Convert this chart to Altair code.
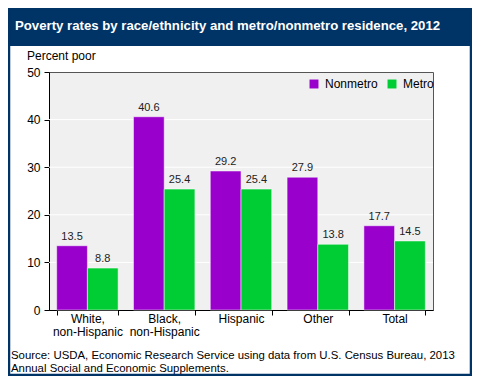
import altair as alt
import pandas as pd

categories = ["White,|non-Hispanic", "Black,|non-Hispanic", "Hispanic", "Other", "Total"]
nonmetro = [13.5, 40.6, 29.2, 27.9, 17.7]
metro = [8.8, 25.4, 25.4, 13.8, 14.5]
series = ["Nonmetro", "Metro"]
colors = ["#9900CC", "#00CC33"]
y_ticks = [0, 10, 20, 30, 40, 50]
grid_vals = [10, 20, 30, 40]

title_text = "Poverty rates by race/ethnicity and metro/nonmetro residence, 2012"
source_line1 = "Source: USDA, Economic Research Service using data from U.S. Census Bureau, 2013"
source_line2 = "Annual Social and Economic Supplements."

rows = []
for c, n, m in zip(categories, nonmetro, metro):
    rows.append({"cat": c, "series": "Nonmetro", "value": n})
    rows.append({"cat": c, "series": "Metro", "value": m})
df = pd.DataFrame(rows)

W, H = 384, 238
L, T = 41, 64
TOTW, TOTH = 464, 368
R = TOTW - L - W
B = TOTH - T - H
NAVY = "#003366"
FONT = "Liberation Sans"

x_enc = alt.X("cat:N", sort=categories, title=None,
              scale=alt.Scale(paddingInner=0.2, paddingOuter=0.1),
              axis=alt.Axis(labelExpr="split(datum.label, '|')", tickBand="extent",
                            labelAngle=0, labelFontSize=12, labelColor="#000",
                            labelFont=FONT, domainColor="#000",
                            tickColor="#000", tickSize=5, labelPadding=-2, labelLineHeight=13))
y_scale = alt.Scale(domain=[0, 50], nice=False)
y_axis = alt.Axis(values=y_ticks, grid=False, labelFontSize=12, labelColor="#000",
                  labelFont=FONT, domainColor="#000", tickColor="#000",
                  tickSize=5, labelPadding=4)

base = alt.Chart(df)

grid = alt.Chart(pd.DataFrame({"g": grid_vals})).mark_rule(color="white", strokeWidth=1).encode(
    y=alt.Y("g:Q", scale=y_scale, title=None, axis=y_axis)
)

bars = base.mark_bar(stroke="white", strokeWidth=0.5).encode(
    x=x_enc,
    xOffset=alt.XOffset("series:N", sort=series, scale=alt.Scale(paddingInner=0, paddingOuter=0)),
    y=alt.Y("value:Q", scale=y_scale, title=None, axis=y_axis),
    color=alt.Color("series:N", sort=series, scale=alt.Scale(domain=series, range=colors),
                    legend=alt.Legend(title=None, orient="none", legendX=W - 125, legendY=6,
                                      direction="horizontal", symbolType="square",
                                      symbolSize=80, symbolStrokeWidth=0,
                                      labelFontSize=12, labelFont=FONT,
                                      labelColor="#000", columnPadding=8, labelOffset=5)),
)

labels = base.mark_text(dy=-9, fontSize=11, font=FONT, color="#222").encode(
    x=alt.X("cat:N", sort=categories),
    xOffset=alt.XOffset("series:N", sort=series),
    y=alt.Y("value:Q", scale=y_scale),
    text=alt.Text("value:Q", format=".1f"),
)

one = pd.DataFrame({"a": [0]})
title_bar = alt.Chart(one).mark_rect(color=NAVY).encode(
    x=alt.value(-L), x2=alt.value(W + R), y=alt.value(-T), y2=alt.value(-T + 38)
)
border = alt.Chart(one).mark_rect(fill=None, stroke=NAVY, strokeWidth=2.5).encode(
    x=alt.value(-L + 1), x2=alt.value(W + R - 1), y=alt.value(-T + 1), y2=alt.value(H + B - 1)
)
title = alt.Chart(one).mark_text(align="left", baseline="middle", fontSize=13.2, fontWeight="bold",
                                  font=FONT, color="white").encode(
    x=alt.value(-L + 7), y=alt.value(-T + 18), text=alt.value(title_text)
)
ylab = alt.Chart(one).mark_text(align="left", baseline="middle", fontSize=12,
                                 font=FONT, color="#000").encode(
    x=alt.value(-L + 19), y=alt.value(-16), text=alt.value("Percent poor")
)
src1 = alt.Chart(one).mark_text(align="left", baseline="middle", fontSize=11.4,
                                 font=FONT, color="#000").encode(
    x=alt.value(-L + 3), y=alt.value(H + 46), text=alt.value(source_line1)
)
src2 = alt.Chart(one).mark_text(align="left", baseline="middle", fontSize=11.4,
                                 font=FONT, color="#000").encode(
    x=alt.value(-L + 3), y=alt.value(H + 59), text=alt.value(source_line2)
)

chart = alt.layer(grid, bars, labels, title_bar, border, title, ylab, src1, src2).properties(
    width=W, height=H, autosize=alt.AutoSizeParams(type="none"),
    padding={"left": L, "top": T, "right": R, "bottom": B},
    background="white",
).configure_view(fill="#f0f0f0", stroke="#555", strokeWidth=1)

chart.save("out.html", embed_options={"renderer": "svg", "actions": False})
